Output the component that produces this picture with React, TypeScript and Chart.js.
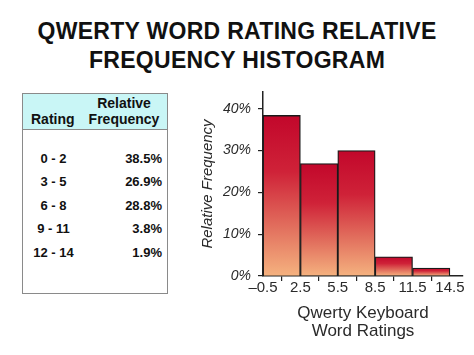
import React, { useEffect, useRef } from "react";
import { Chart, registerables } from "chart.js";
Chart.register(...registerables);

const titleLines = ["QWERTY WORD RATING RELATIVE", "FREQUENCY HISTOGRAM"];
const tableHeaders = ["Rating", "Relative", "Frequency"];
const tableRatings = ["0 - 2", "3 - 5", "6 - 8", "9 - 11", "12 - 14"];
const tableFrequencies = ["38.5%", "26.9%", "28.8%", "3.8%", "1.9%"];
const binEdges = [-0.5, 2.5, 5.5, 8.5, 11.5, 14.5];
const barValues = [38.4, 26.9, 30.0, 4.6, 1.9];
const yTicks = [0, 10, 20, 30, 40];
const yTitle = "Relative Frequency";
const xTitle = ["Qwerty Keyboard", "Word Ratings"];

const FONT = "'Liberation Sans', Arial, sans-serif";
const INK = "#2a2a2a";

export default function App() {
  const ref = useRef<HTMLCanvasElement>(null);

  useEffect(() => {
    document.body.style.margin = "0";
    const data = barValues.map((v, i) => ({ x: (binEdges[i] + binEdges[i + 1]) / 2, y: v }));
    const chart = new Chart(ref.current!, {
      type: "bar",
      data: {
        datasets: [
          {
            data,
            backgroundColor: (c: any) => {
              const ch = c.chart;
              if (!ch.chartArea || !c.raw) return "#c8102e";
              const ys = ch.scales.y;
              const top = ys.getPixelForValue(c.raw.y);
              const bot = ys.getPixelForValue(0);
              const g = ch.ctx.createLinearGradient(0, top, 0, bot);
              g.addColorStop(0, "#c2072b");
              g.addColorStop(0.35, "#cf2238");
              g.addColorStop(0.7, "#e2705e");
              g.addColorStop(1, "#f5b27f");
              return g;
            },
            borderColor: "#1a1a1a",
            borderWidth: 1.3,
            borderSkipped: "bottom",
            barPercentage: 1,
            categoryPercentage: 1,
          },
        ],
      },
      options: {
        responsive: false,
        animation: false,
        layout: { padding: { top: 7, right: 11, left: 0, bottom: 0 } },
        plugins: { legend: { display: false }, tooltip: { enabled: false } },
        scales: {
          x: {
            type: "linear",
            offset: false,
            min: -0.5,
            max: 15.55,
            afterBuildTicks: (s: any) => {
              s.ticks = binEdges.map((v) => ({ value: v }));
            },
            afterFit: (s: any) => {
              s.height = 79;
            },
            ticks: {
              autoSkip: false,
              maxRotation: 0,
              color: INK,
              padding: -2,
              font: { family: FONT, size: 15 },
              callback: (v: any) => (v < 0 ? "\u2013" + Math.abs(v) : String(v)),
            },
            grid: { display: true, drawOnChartArea: false, drawTicks: true, tickLength: 5, color: "#222", lineWidth: 1.2 },
            border: { display: true, color: "#222", width: 1.5 },
            title: {
              display: true,
              text: xTitle,
              color: INK,
              font: { family: FONT, size: 17, lineHeight: 1.1 },
              padding: { top: 4, bottom: 14 },
            },
          },
          y: {
            min: 0,
            max: 44,
            afterBuildTicks: (s: any) => {
              s.ticks = yTicks.map((v) => ({ value: v }));
            },
            afterFit: (s: any) => {
              s.width = 68;
              s.paddingTop = 0;
            },
            ticks: {
              color: INK,
              padding: 7,
              font: { family: FONT, size: 14, style: "italic" },
              callback: (v: any) => v + "%",
            },
            grid: { display: true, drawOnChartArea: false, drawTicks: true, tickLength: 5, color: "#222", lineWidth: 1.2 },
            border: { display: true, color: "#222", width: 1.5 },
            title: {
              display: true,
              text: yTitle,
              color: INK,
              font: { family: FONT, size: 15, style: "italic" },
              padding: { top: 4, bottom: 0 },
            },
          },
        },
      },
    } as any);
    return () => chart.destroy();
  }, []);

  const rowTops = [159, 182, 206, 229, 253];

  return (
    <div style={{ position: "relative", width: 474, height: 355, background: "#fff", overflow: "hidden", fontFamily: FONT }}>
      <div
        style={{
          position: "absolute",
          left: 0,
          top: 17,
          width: 474,
          textAlign: "center",
          fontWeight: "bold",
          fontSize: 23,
          letterSpacing: "0.3px",
          lineHeight: "29px",
          color: "#111",
        }}
      >
        {titleLines.map((t, i) => (
          <div key={i}>{t}</div>
        ))}
      </div>

      <div
        style={{
          position: "absolute",
          left: 22,
          top: 93,
          width: 144,
          height: 199,
          border: "1px solid #8a8a8a",
          background: "#fff",
        }}
      >
        <div style={{ position: "absolute", left: 0, top: 0, width: 144, height: 35, background: "#c9f6f6", borderBottom: "1px solid #8a8a8a" }} />
        <div style={{ position: "absolute", left: 8, top: 17, fontWeight: "bold", fontSize: 14, color: "#111", lineHeight: "16px" }}>
          {tableHeaders[0]}
        </div>
        <div style={{ position: "absolute", left: 60, width: 82, top: 2, textAlign: "center", fontWeight: "bold", fontSize: 14, color: "#111", lineHeight: "15.5px" }}>
          <div>{tableHeaders[1]}</div>
          <div>{tableHeaders[2]}</div>
        </div>
        {tableRatings.map((r, i) => (
          <React.Fragment key={i}>
            <div style={{ position: "absolute", left: 0, width: 61, top: rowTops[i] - 93 - 9, textAlign: "center", fontWeight: "bold", fontSize: 13, color: "#111", lineHeight: "16px" }}>
              {r}
            </div>
            <div style={{ position: "absolute", right: 5, top: rowTops[i] - 93 - 9, textAlign: "right", fontWeight: "bold", fontSize: 13, color: "#111", lineHeight: "16px" }}>
              {tableFrequencies[i]}
            </div>
          </React.Fragment>
        ))}
      </div>

      <canvas ref={ref} width={279} height={270} style={{ position: "absolute", left: 195, top: 85, width: 279, height: 270 }} />
    </div>
  );
}
